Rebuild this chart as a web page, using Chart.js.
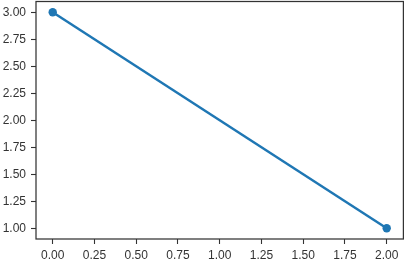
<!DOCTYPE html>
<html><head><meta charset="utf-8">
<script src="https://cdn.jsdelivr.net/npm/chart.js@4/dist/chart.umd.min.js"></script>
<style>html,body{margin:0;padding:0;background:#fff}#wrap{width:404px;height:264px}</style>
</head><body><div id="wrap"><canvas id="c" width="404" height="264"></canvas></div>
<script>
const xValues = [0, 2];
const yValues = [3, 1];
const xTicks = [0, 0.25, 0.5, 0.75, 1, 1.25, 1.5, 1.75, 2];
const yTicks = [1, 1.25, 1.5, 1.75, 2, 2.25, 2.5, 2.75, 3];

const frame = {
  id: 'frame',
  afterDatasetsDraw(chart) {
    const a = chart.chartArea, ctx = chart.ctx;
    ctx.save();
    ctx.strokeStyle = '#333';
    ctx.lineWidth = 1.25;
    ctx.strokeRect(a.left, a.top, a.right - a.left, a.bottom - a.top);
    ctx.restore();
  }
};
const fontSpec = {family: '"Liberation Sans", Arial, sans-serif', size: 12};
function noPad(s) { s.paddingTop = 0; s.paddingBottom = 0; s.paddingLeft = 0; s.paddingRight = 0; }
new Chart(document.getElementById('c'), {
  type: 'scatter',
  data: { datasets: [{
    data: xValues.map((x, i) => ({x: x, y: yValues[i]})),
    showLine: true, clip: 8,
    borderColor: '#1f77b4', backgroundColor: '#1f77b4',
    borderWidth: 2.5, pointRadius: 4.2, pointHoverRadius: 4.2, pointBorderWidth: 0
  }]},
  options: {
    responsive: false, animation: false, devicePixelRatio: 1,
    layout: {autoPadding: false, padding: {top: 1.5, right: 0.6, left: 0, bottom: 0}},
    plugins: {legend: {display: false}, tooltip: {enabled: false}},
    scales: {
      x: {
        type: 'linear', min: -0.1, max: 2.1,
        afterBuildTicks: s => { s.ticks = xTicks.map(v => ({value: v})); },
        afterFit: s => { s.height = 25; noPad(s); },
        grid: {drawOnChartArea: false, tickLength: 5, tickColor: '#333', tickWidth: 1.1},
        border: {display: false},
        ticks: {font: fontSpec, color: '#333', padding: 4, maxRotation: 0, autoSkip: false,
          callback: v => Number(v).toFixed(2)}
      },
      y: {
        type: 'linear', min: 0.9, max: 3.1,
        afterBuildTicks: s => { s.ticks = yTicks.map(v => ({value: v})); },
        afterFit: s => { s.width = 36; noPad(s); },
        grid: {drawOnChartArea: false, tickLength: 5, tickColor: '#333', tickWidth: 1.1},
        border: {display: false},
        ticks: {font: fontSpec, color: '#333', padding: 5, autoSkip: false,
          callback: v => Number(v).toFixed(2)}
      }
    }
  },
  plugins: [frame]
});
</script></body></html>
